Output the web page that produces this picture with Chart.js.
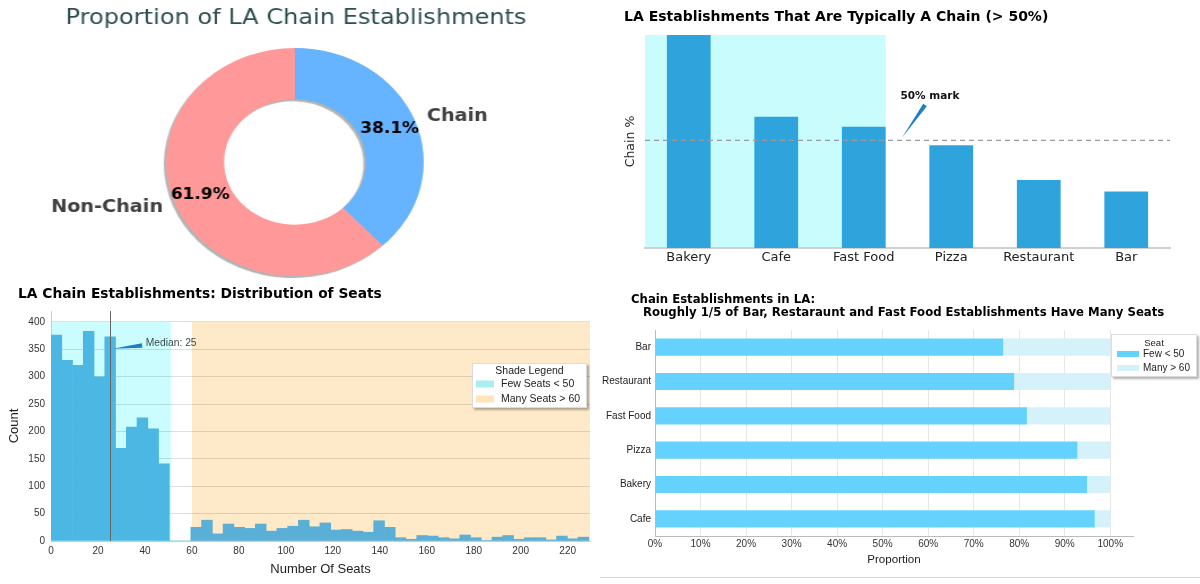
<!DOCTYPE html>
<html>
<head>
<meta charset="utf-8">
<script src="https://cdn.jsdelivr.net/npm/chart.js@4.4.1/dist/chart.umd.min.js"></script>
<style>
  html, body { margin: 0; padding: 0; background: #fff; }
  #page { position: relative; width: 1200px; height: 584px; overflow: hidden; }
  .panel { position: absolute; }
  /* the pie panel in the picture is stretched sideways */
  #pieBox { left: 0; top: 0; width: 531px; height: 290px; transform: scaleX(1.13); transform-origin: 0 0; }
  #chainBox { left: 600px; top: 0; width: 600px; height: 285px; }
  #seatBox { left: 0; top: 285px; width: 600px; height: 299px; }
  #propBox { left: 600px; top: 285px; width: 600px; height: 299px; }
  #rule { position: absolute; left: 600px; top: 577px; width: 600px; height: 1px; background: #d4d4d4; }
</style>
</head>
<body>
<div id="page">
  <div class="panel" id="pieBox"><canvas id="pie"></canvas></div>
  <div class="panel" id="chainBox"><canvas id="chain"></canvas></div>
  <div class="panel" id="seatBox"><canvas id="seats"></canvas></div>
  <div class="panel" id="propBox"><canvas id="prop"></canvas></div>
  <div id="rule"></div>
</div>
<script>
// ---- data ----
const pieLabels = ['Chain', 'Non-Chain'];
const pieValues = [38.1, 61.9];
const pieColors = ['#66b3ff', '#ff9999'];

const chainTypes = ['Bakery', 'Cafe', 'Fast Food', 'Pizza', 'Restaurant', 'Bar'];
const chainPct = [99, 61, 56.3, 47.7, 31.6, 26.3];
const chainMark = 50;

const seatBinWidth = 4.58;
const seatCounts = [376, 330, 321, 383, 300, 373, 169, 208, 225, 205, 141, 0, 0,
  25, 38, 13, 31, 25, 23, 31, 18, 23, 27, 38, 26, 33, 20, 21, 18, 16, 37,
  25, 6, 3, 10, 9, 6, 4, 11, 6, 1, 7, 10, 3, 6, 6, 2, 9, 4, 7];
const seatMedian = 25;
const shadeNames = ['Few Seats < 50', 'Many Seats > 60'];

const seatTypes = ['Bar', 'Restaurant', 'Fast Food', 'Pizza', 'Bakery', 'Cafe'];
const fewSeats = [76.5, 78.9, 81.7, 92.8, 94.9, 96.6];
const manySeats = [23.5, 21.1, 18.3, 7.2, 5.1, 3.4];
const seatNames = ['Few < 50', 'Many > 60'];

Chart.defaults.font.family = 'DejaVu Sans';
Chart.defaults.animation = false;
Chart.defaults.plugins.legend.display = false;
Chart.defaults.plugins.tooltip.enabled = false;

const SANS = 'Liberation Sans';

// ---- helpers ----
function label(ctx, str, x, y, font, color, align, rot) {
  ctx.save();
  ctx.font = font;
  ctx.fillStyle = color;
  ctx.textAlign = align || 'left';
  ctx.textBaseline = 'middle';
  ctx.translate(x, y);
  if (rot) ctx.rotate(rot);
  ctx.fillText(str, 0, 0);
  ctx.restore();
}

// thin at the tip, wide at the tail
function wedge(ctx, tx, ty, hx, hy, w, color) {
  const dx = hx - tx, dy = hy - ty, len = Math.hypot(dx, dy);
  const nx = -dy / len * w, ny = dx / len * w;
  ctx.save();
  ctx.fillStyle = color;
  ctx.beginPath();
  ctx.moveTo(hx, hy);
  ctx.lineTo(tx + nx, ty + ny);
  ctx.lineTo(tx - nx, ty - ny);
  ctx.closePath();
  ctx.fill();
  ctx.restore();
}

function legendBox(ctx, b, title, names, colors) {
  ctx.save();
  ctx.shadowColor = 'rgba(0,0,0,0.3)';
  ctx.shadowOffsetX = 1.5; ctx.shadowOffsetY = 1.5; ctx.shadowBlur = 2;
  ctx.fillStyle = '#fff';
  ctx.fillRect(b.x, b.y, b.w, b.h);
  ctx.restore();
  ctx.strokeStyle = '#dcdcdc';
  ctx.lineWidth = 1;
  ctx.strokeRect(b.x + 0.5, b.y + 0.5, b.w - 1, b.h - 1);
  label(ctx, title, b.x + b.w / 2, b.y + b.titleY, b.titleFont, '#222', 'center');
  names.forEach((n, i) => {
    const y = b.y + b.rowY + i * b.rowGap;
    ctx.fillStyle = colors[i];
    ctx.fillRect(b.x + b.patchX, y - b.patchH / 2, b.patchW, b.patchH);
    label(ctx, n, b.x + b.textX, y, b.font, '#222', 'left');
  });
}

// ---- top left: doughnut ----
const pieShadow = {
  id: 'pieShadow',
  beforeDatasetsDraw(chart) {
    const c = chart.ctx;
    c.save();
    c.shadowColor = 'rgba(0,0,0,0.3)';
    c.shadowOffsetX = -2;
    c.shadowOffsetY = 2;
    c.shadowBlur = 1;
  },
  afterDatasetsDraw(chart) { chart.ctx.restore(); }
};

const pieText = {
  id: 'pieText',
  afterDraw(chart) {
    const ctx = chart.ctx;
    label(ctx, 'Proportion of LA Chain Establishments', 262, 18, '21.3px DejaVu Sans', '#2f4f4f', 'center');
    chart.getDatasetMeta(0).data.forEach((arc, i) => {
      const mid = (arc.startAngle + arc.endAngle) / 2;
      const cs = Math.cos(mid), sn = Math.sin(mid);
      const r = arc.outerRadius;
      label(ctx, pieLabels[i], arc.x + cs * r * 1.1, arc.y + sn * r * 1.1,
        'bold 17px DejaVu Sans', '#404040', cs >= 0 ? 'left' : 'right');
      label(ctx, pieValues[i].toFixed(1) + '%', arc.x + cs * r * 0.79, arc.y + sn * r * 0.79,
        'bold 15px DejaVu Sans', '#000', 'center');
    });
  }
};

new Chart(document.getElementById('pie'), {
  type: 'doughnut',
  data: {
    labels: pieLabels,
    datasets: [{ data: pieValues, backgroundColor: pieColors, borderWidth: 0 }]
  },
  options: {
    responsive: true, maintainAspectRatio: false,
    cutout: '55%',
    layout: { padding: { left: 147, right: 156, top: 48, bottom: 14 } }
  },
  plugins: [pieShadow, pieText]
});

// ---- top right: chain share by type ----
const shadeUpTo = 2.25; // category units, right edge of the Fast Food bar

const chainDecor = {
  id: 'chainDecor',
  beforeDraw(chart) {
    const { ctx, chartArea: a, scales: { x } } = chart;
    const step = x.getPixelForValue(1) - x.getPixelForValue(0);
    const right = x.getPixelForValue(2) + (shadeUpTo - 2) * step;
    ctx.fillStyle = '#c9fdfd';
    ctx.fillRect(a.left, a.top, right - a.left, a.bottom - a.top);
  },
  afterDatasetsDraw(chart) {
    const { ctx, chartArea: a, scales: { x, y } } = chart;
    const step = x.getPixelForValue(1) - x.getPixelForValue(0);
    const px = v => x.getPixelForValue(0) + v * step;
    const ym = y.getPixelForValue(chainMark);
    ctx.save();
    ctx.strokeStyle = '#9a9a9a';
    ctx.lineWidth = 1.4;
    ctx.setLineDash([5, 4]);
    ctx.beginPath();
    ctx.moveTo(a.left, ym);
    ctx.lineTo(a.right, ym);
    ctx.stroke();
    ctx.restore();
    wedge(ctx, px(2.7), y.getPixelForValue(66.5), px(2.437), y.getPixelForValue(51.2), 2.2, '#1a7fc4');
    label(ctx, '50% mark', px(2.757), y.getPixelForValue(70.6), 'bold 10.5px DejaVu Sans', '#111', 'center');
    label(ctx, 'LA Establishments That Are Typically A Chain (> 50%)', 24, 17, 'bold 14px DejaVu Sans', '#000', 'left');
    label(ctx, 'Chain %', 31, (a.top + a.bottom) / 2, '12.5px DejaVu Sans', '#222', 'center', -Math.PI / 2);
  }
};

new Chart(document.getElementById('chain'), {
  type: 'bar',
  data: {
    labels: chainTypes,
    datasets: [{ data: chainPct, backgroundColor: '#2ea3dc', barPercentage: 0.5, categoryPercentage: 1 }]
  },
  options: {
    responsive: true, maintainAspectRatio: false,
    layout: { padding: { left: 45, right: 30, top: 35, bottom: 0 } },
    scales: {
      x: {
        grid: { display: false, drawTicks: false },
        border: { color: '#d0d0d0', width: 2 },
        ticks: { color: '#222', font: { size: 13 }, padding: 2 },
        afterFit(s) { s.height = 37; }
      },
      y: { display: false, min: 0, max: 99 }
    }
  },
  plugins: [chainDecor]
});

// ---- bottom left: seats histogram ----
const fewShade = [0, 51];
const manyShade = [60, 229.5];
const shadeTop = 400;

const seatDecor = {
  id: 'seatDecor',
  beforeDraw(chart) {
    const { ctx, scales: { x, y } } = chart;
    const top = y.getPixelForValue(shadeTop), bot = y.getPixelForValue(0);
    ctx.fillStyle = '#cbfdff';
    ctx.fillRect(x.getPixelForValue(fewShade[0]), top, x.getPixelForValue(fewShade[1]) - x.getPixelForValue(fewShade[0]), bot - top);
    ctx.fillStyle = '#feeac8';
    ctx.fillRect(x.getPixelForValue(manyShade[0]), top, x.getPixelForValue(manyShade[1]) - x.getPixelForValue(manyShade[0]), bot - top);
  },
  afterDatasetsDraw(chart) {
    const { ctx, chartArea: a, scales: { x, y } } = chart;
    const mx = Math.round(x.getPixelForValue(seatMedian)) + 0.5;
    ctx.save();
    ctx.strokeStyle = '#666';
    ctx.lineWidth = 1;
    ctx.beginPath();
    ctx.moveTo(mx, a.top);
    ctx.lineTo(mx, a.bottom);
    ctx.stroke();
    ctx.restore();
    wedge(ctx, x.getPixelForValue(38.8), y.getPixelForValue(357), x.getPixelForValue(26.3), y.getPixelForValue(351), 2.2, '#1a7fc4');
    label(ctx, 'Median: ' + seatMedian, x.getPixelForValue(40.3), y.getPixelForValue(361), '10.3px ' + SANS, '#3c4c4c', 'left');

    label(ctx, 'LA Chain Establishments: Distribution of Seats', 18, 9, 'bold 13.8px DejaVu Sans', '#000', 'left');
    label(ctx, 'Number Of Seats', (a.left + a.right) / 2, 284, '13px ' + SANS, '#222', 'center');
    label(ctx, 'Count', 14, (a.top + a.bottom) / 2, '13px ' + SANS, '#222', 'center', -Math.PI / 2);

    legendBox(ctx, {
      x: 472, y: 78, w: 115, h: 45,
      titleY: 8, titleFont: '10.5px ' + SANS,
      rowY: 21, rowGap: 15,
      patchX: 4, patchW: 18, patchH: 7, textX: 29, font: '10.5px ' + SANS
    }, 'Shade Legend', shadeNames, ['#a9eef1', '#fde4ba']);
  }
};

new Chart(document.getElementById('seats'), {
  type: 'bar',
  data: {
    datasets: [{
      data: seatCounts.map((c, i) => ({ x: (i + 0.5) * seatBinWidth, y: c })),
      // bar tint as seen over each shaded band
      backgroundColor: c => (c.raw && c.raw.x > manyShade[0] ? '#5aafd6' : '#4db7e4'),
      barPercentage: 1, categoryPercentage: 1, borderWidth: 0
    }]
  },
  options: {
    responsive: true, maintainAspectRatio: false,
    layout: { padding: { left: 0, right: 10, top: 26, bottom: 0 } },
    scales: {
      x: {
        type: 'linear', min: 0, max: manyShade[1], offset: false,
        grid: { display: false, drawTicks: false },
        border: { color: '#cccccc' },
        ticks: { stepSize: 20, includeBounds: false, color: '#333', font: { family: SANS, size: 10 }, padding: 4, maxRotation: 0 },
        afterFit(s) { s.height = 43; }
      },
      y: {
        min: 0, max: 420,
        grid: { color: 'rgba(0,0,0,0.12)', drawTicks: false },
        border: { color: '#cccccc' },
        ticks: { stepSize: 50, includeBounds: false, color: '#333', font: { family: SANS, size: 10 }, padding: 6 },
        afterFit(s) { s.width = 51; }
      }
    }
  },
  plugins: [seatDecor]
});

// ---- bottom right: seat proportion by type ----
const propColors = ['#64d2fc', '#d5f2fb'];

const propDecor = {
  id: 'propDecor',
  afterDraw(chart) {
    const { ctx, chartArea: a } = chart;
    label(ctx, 'Chain Establishments in LA:', 31, 15, 'bold 11.7px DejaVu Sans', '#000', 'left');
    label(ctx, 'Roughly 1/5 of Bar, Restaraunt and Fast Food Establishments Have Many Seats', 43, 28, 'bold 11.7px DejaVu Sans', '#000', 'left');
    label(ctx, 'Proportion', (a.left + a.right) / 2, 275, '11.6px ' + SANS, '#222', 'center');
    legendBox(ctx, {
      x: 511, y: 49, w: 86, h: 43,
      titleY: 9, titleFont: '9.5px ' + SANS,
      rowY: 20, rowGap: 14,
      patchX: 6, patchW: 22, patchH: 6, textX: 32, font: '10px ' + SANS
    }, 'Seat', seatNames, propColors);
  }
};

new Chart(document.getElementById('prop'), {
  type: 'bar',
  data: {
    labels: seatTypes,
    datasets: [
      { label: seatNames[0], data: fewSeats, backgroundColor: propColors[0], barPercentage: 0.5, categoryPercentage: 1 },
      { label: seatNames[1], data: manySeats, backgroundColor: propColors[1], barPercentage: 0.5, categoryPercentage: 1 }
    ]
  },
  options: {
    indexAxis: 'y',
    responsive: true, maintainAspectRatio: false,
    layout: { padding: { left: 0, right: 67, top: 45, bottom: 0 } },
    scales: {
      x: {
        stacked: true, min: 0, max: 105,
        grid: { color: '#e6e6e6', drawTicks: false },
        border: { color: '#bbbbbb' },
        ticks: { stepSize: 10, includeBounds: false, callback: v => v + '%', color: '#333', font: { family: SANS, size: 10 }, padding: 2, maxRotation: 0 },
        afterFit(s) { s.height = 48; }
      },
      y: {
        stacked: true,
        grid: { display: false, drawTicks: false },
        border: { color: '#bbbbbb' },
        ticks: { color: '#222', font: { family: SANS, size: 10 }, padding: 4 },
        afterFit(s) { s.width = 55; }
      }
    }
  },
  plugins: [propDecor]
});
</script>
</body>
</html>
